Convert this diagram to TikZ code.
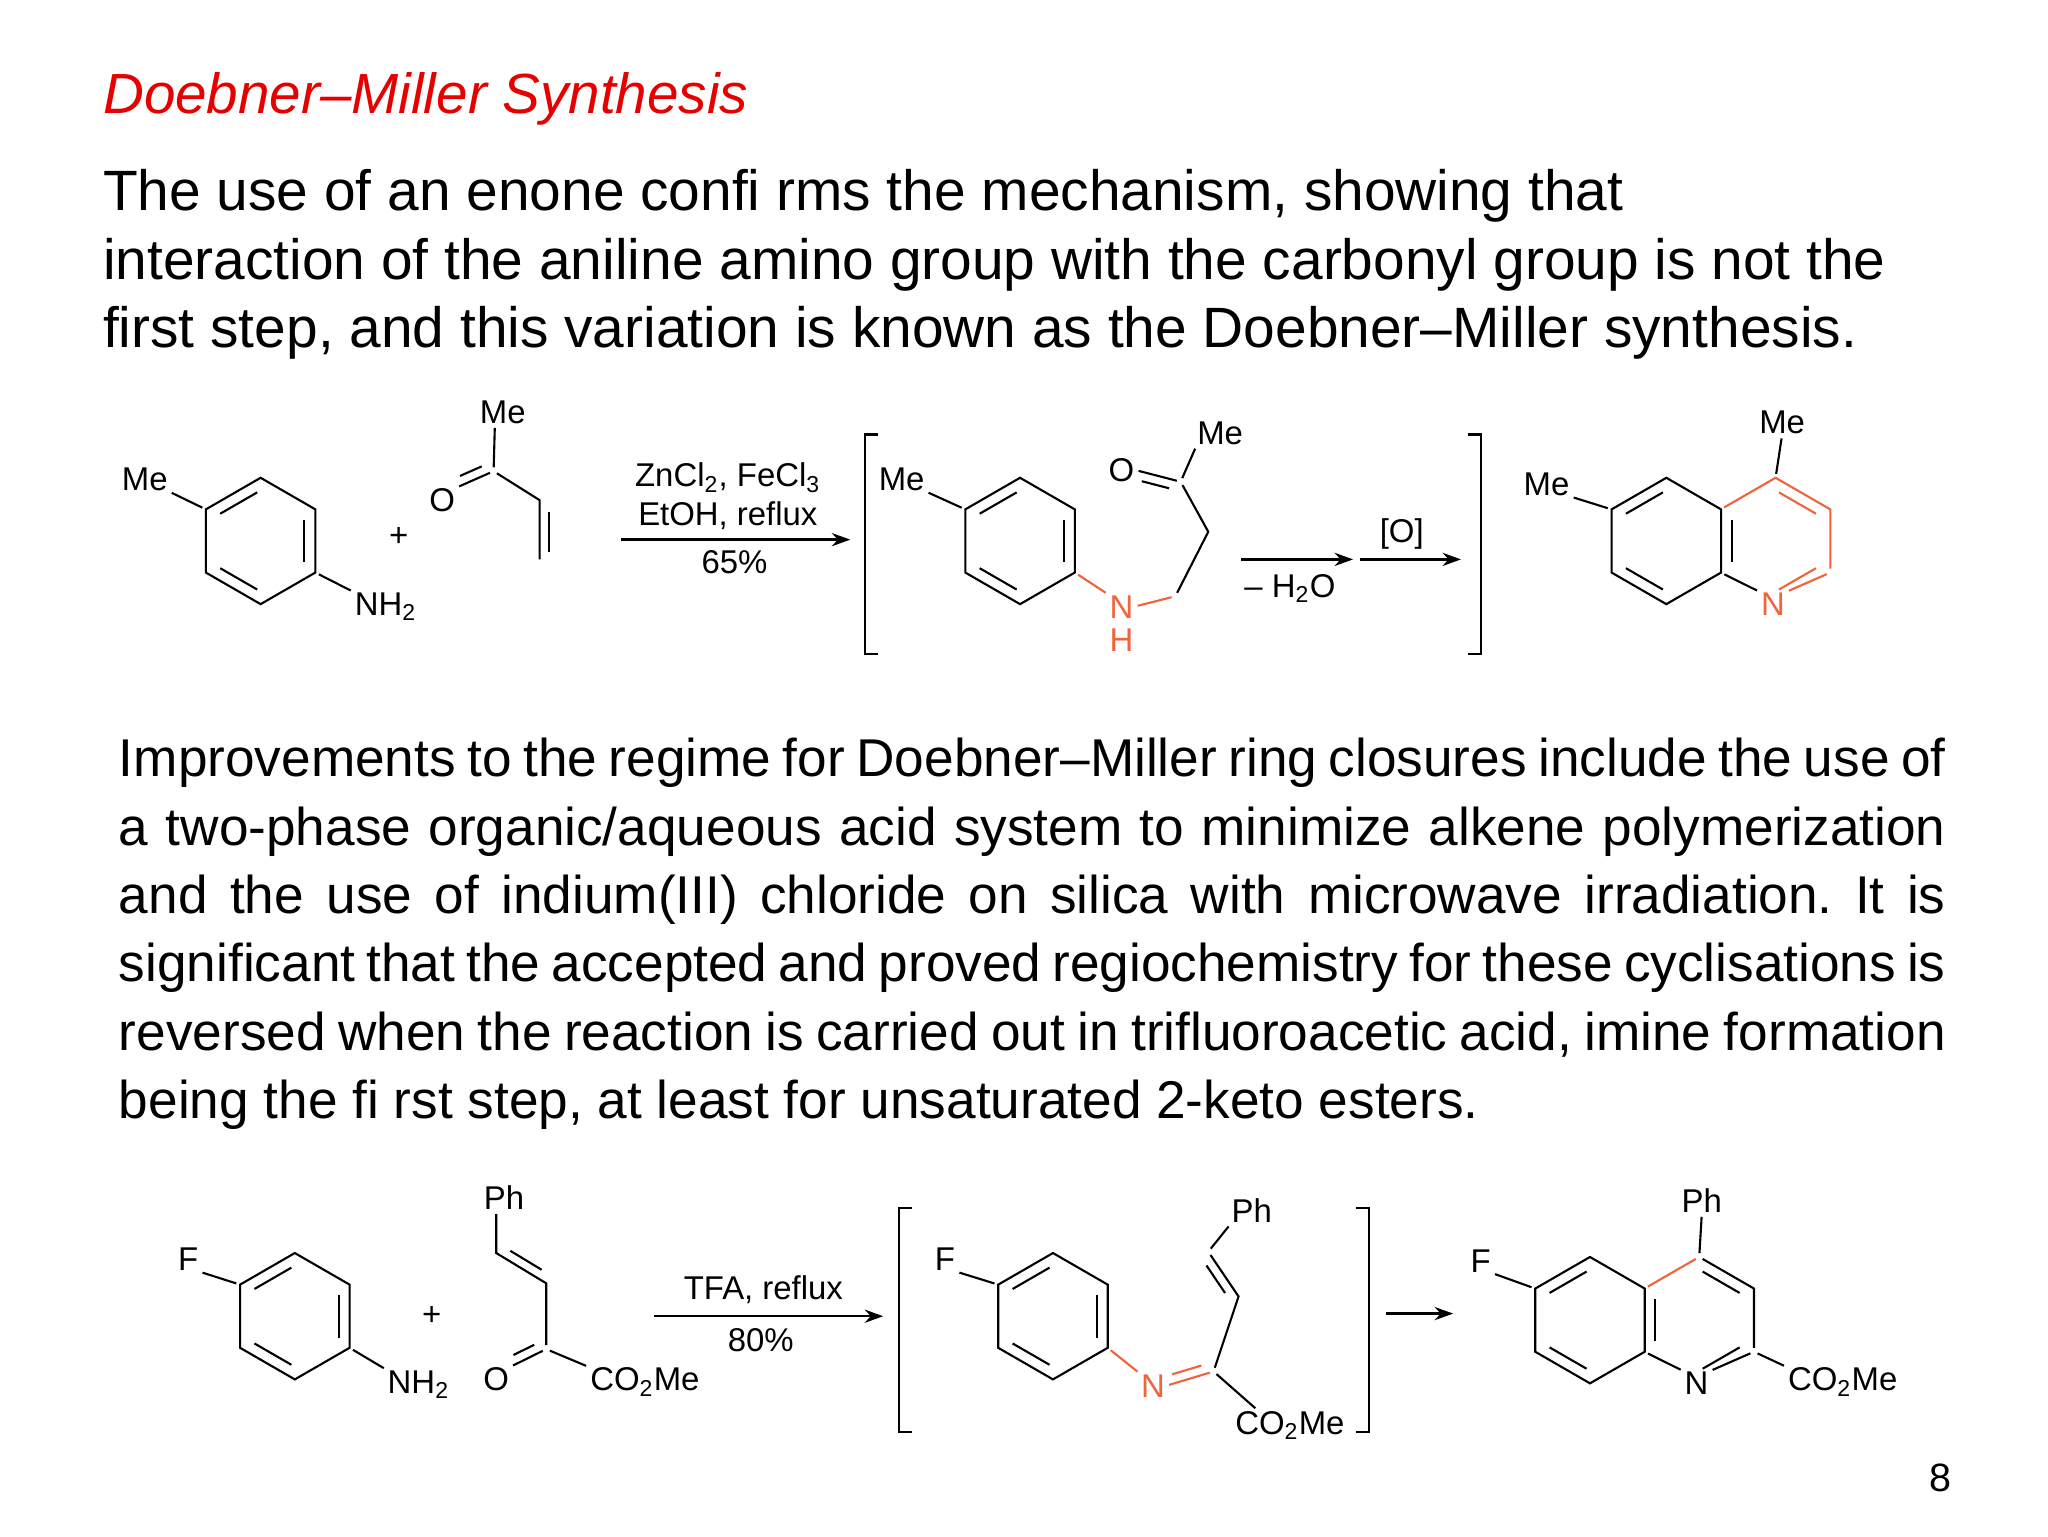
\documentclass[tikz,border=0pt]{standalone}
\usepackage{fontspec}
\setmainfont{Liberation Sans}
\usetikzlibrary{calc,arrows.meta}
\frenchspacing
\definecolor{titlered}{RGB}{230,0,0}
\definecolor{chemor}{RGB}{240,100,60}
\newcommand\hexat[3]{%
 \coordinate (#1-c) at (#2,#3);
 \coordinate (#1-1) at (#2,#3-48);
 \coordinate (#1-2) at (#2+41.6,#3-24);
 \coordinate (#1-3) at (#2+41.6,#3+24);
 \coordinate (#1-4) at (#2,#3+48);
 \coordinate (#1-5) at (#2-41.6,#3+24);
 \coordinate (#1-6) at (#2-41.6,#3-24);}
\newcommand\inb[4][]{\draw[bond,#1] ($(#2)!0.2!(#4)$) -- ($(#3)!0.2!(#4)$);}
\newcommand\dbl[4][]{\draw[bond,#1] ($(#2)!0.12!(#3)!3.5pt!#4:(#3)$) -- ($(#3)!0.12!(#2)!3.5pt!-#4:(#2)$);}
\newcommand\jline[1]{\makebox[694pt][s]{#1}}
\begin{document}
\begin{tikzpicture}[x=0.5pt,y=-0.5pt,
  bond/.style={line width=0.8pt,shorten <=1.5pt,shorten >=1.5pt},
  obond/.style={bond,draw=chemor},
  atom/.style={inner sep=0pt,font=\fontsize{12.5}{14}\selectfont},
  oatom/.style={atom,text=chemor},
  rxn/.style={-{Stealth[length=7pt,width=5pt]},line width=0.9pt},
  cond/.style={inner sep=0pt,font=\fontsize{12.5}{14}\selectfont,align=center},
  body/.style={inner sep=0pt,anchor=base west,font=\fontsize{21.6}{26}\selectfont},
  bodyb/.style={inner sep=0pt,anchor=base west,font=\fontsize{20.2}{26}\selectfont}]
\useasboundingbox[fill=white] (0,0) rectangle (1556,1167);
\node[inner sep=0pt,anchor=base west,text=titlered,font=\fontsize{21.5}{24}\selectfont\itshape] (title) at (78,86) {Doebner–Miller Synthesis};
\node[body] (p1) at (78,160) {The use of an enone confi rms the mechanism, showing that};
\node[body] (p2) at (78,212) {interaction of the aniline amino group with the carbonyl group is not the};
\node[body] (p3) at (78,264) {first step, and this variation is known as the Doebner–Miller synthesis.};
\node[bodyb] (q1) at (90,590) {\jline{Improvements to the regime for Doebner–Miller ring closures include the use of}};
\node[bodyb] (q2) at (90,642) {\jline{a two-phase organic/aqueous acid system to minimize alkene polymerization}};
\node[bodyb] (q3) at (90,694) {\jline{and the use of indium(III) chloride on silica with microwave irradiation. It is}};
\node[bodyb] (q4) at (90,746) {\jline{significant that the accepted and proved regiochemistry for these cyclisations is}};
\node[bodyb] (q5) at (90,798) {\jline{reversed when the reaction is carried out in trifluoroacetic acid, imine formation}};
\node[bodyb] (q6) at (90,850) {being the fi rst step, at least for unsaturated 2-keto esters.};
\node[inner sep=0pt,font=\fontsize{15}{18}\selectfont] (pg) at (1474,1123) {8};
%%% scheme 1
\hexat{a}{198}{411}
\draw[bond] (a-1)--(a-2)--(a-3)--(a-4)--(a-5)--(a-6)--cycle;
\inb{a-6}{a-1}{a-c}\inb{a-2}{a-3}{a-c}\inb{a-4}{a-5}{a-c}
\node[atom] (me1) at (110,364) {Me};
\draw[bond] (a-6) -- (me1.south east);
\node[atom] (nh1) at (293,461) {NH\textsubscript{2}};
\draw[bond] (a-3) -- (nh1.north west);
\node[atom] (plus1) at (303,408) {+};
\node[atom] (me2) at (382,313) {Me};
\coordinate (e1) at (375,358);
\coordinate (e2) at (410,380);
\coordinate (e3) at (410,428);
\node[atom] (o1) at (336,380) {O};
\draw[bond] (me2.south) ++(-6,0) coordinate (me2b);
\draw[bond] (me2b) -- (e1);
\draw[bond] (e1) -- (o1.north east);
\dbl{e1}{o1.north east}{-90}
\draw[bond] (e1) -- (e2) -- (e3);
\dbl{e2}{e3}{90}
\node[cond] (c1a) at (553,363) {ZnCl\textsubscript{2}, FeCl\textsubscript{3}};
\node[cond] (c1b) at (553,392) {EtOH, reflux};
\node[cond] (c1c) at (558,427) {65\%};
\coordinate (ar1s) at (472,410); \coordinate (ar1e) at (646,410);
\draw[rxn] (ar1s) -- (ar1e);
\coordinate (bl1t) at (667,330); \coordinate (bl1b) at (667,497);
\draw[line width=0.9pt] (bl1t) -| (657,497) -- (bl1b);
\coordinate (br1t) at (1115,330); \coordinate (br1b) at (1115,497);
\draw[line width=0.9pt] (br1t) -| (1125,497) -- (br1b);
\hexat{b}{775}{411}
\draw[bond] (b-1)--(b-2)--(b-3)--(b-4)--(b-5)--(b-6)--cycle;
\inb{b-6}{b-1}{b-c}\inb{b-2}{b-3}{b-c}\inb{b-4}{b-5}{b-c}
\node[atom] (me3) at (685,364) {Me};
\draw[bond] (b-6) -- (me3.south east);
\node[oatom] (n1) at (852,461) {N};
\node[oatom] (h1) at (852,486) {H};
\draw[obond] (b-3) -- (n1.north west);
\coordinate (k1) at (893,453);
\coordinate (k2) at (918,404);
\coordinate (k3) at (897,366);
\draw[obond] (n1.east) -- (k1);
\draw[bond] (k1) -- (k2) -- (k3);
\node[atom] (o2) at (852,357) {O};
\draw[bond] (k3) -- (o2.east);
\dbl{k3}{o2.east}{90}
\node[atom] (me4) at (927,329) {Me};
\draw[bond] (k3) -- (me4.south west);
\coordinate (ar2s) at (943,425); \coordinate (ar2e) at (1028,425);
\draw[rxn] (ar2s) -- (ar2e);
\node[cond] (c2) at (980,447) {– H\textsubscript{2}O};
\coordinate (ar3s) at (1033,425); \coordinate (ar3e) at (1110,425);
\draw[rxn] (ar3s) -- (ar3e);
\node[cond] (c3) at (1065,406) {[O]};
\hexat{q}{1266}{411}
\hexat{r}{1349}{411}
\draw[bond] (q-1)--(q-2)--(q-3)--(q-4)--(q-5)--(q-6)--cycle;
\inb{q-6}{q-1}{q-c}\inb{q-4}{q-5}{q-c}\inb{r-5}{r-6}{r-c}
\draw[obond] (r-6)--(r-1)--(r-2)--(r-3);
\node[oatom] (n2) at (1347,459) {N};
\draw[obond] (r-3) -- (n2.north east);
\draw[bond] (n2.north west) -- (r-5);
\inb[draw=chemor]{r-1}{r-2}{r-c}\inb[draw=chemor]{r-3}{r-4}{r-c}
\node[atom] (me5) at (1354,321) {Me};
\draw[bond] (r-1) -- (me5.south);
\node[atom] (me6) at (1175,368) {Me};
\draw[bond] (q-6) -- (me6.south east);
%%% scheme 2
\hexat{d}{224}{1000}
\draw[bond] (d-1)--(d-2)--(d-3)--(d-4)--(d-5)--(d-6)--cycle;
\inb{d-6}{d-1}{d-c}\inb{d-2}{d-3}{d-c}\inb{d-4}{d-5}{d-c}
\node[atom] (f1) at (143,957) {F};
\draw[bond] (d-6) -- (f1.south east);
\node[atom] (nh2) at (318,1052) {NH\textsubscript{2}};
\draw[bond] (d-3) -- (nh2.north west);
\node[atom] (plus2) at (328,1000) {+};
\node[atom] (ph1) at (383,910) {Ph};
\coordinate (s1) at (377,952);
\coordinate (s2) at (415,975);
\coordinate (s3) at (415,1025);
\draw[bond] (ph1.south) ++(-6,0) coordinate (ph1b);
\draw[bond] (ph1b) -- (s1) -- (s2) -- (s3);
\dbl{s1}{s2}{90}
\node[atom] (o3) at (377,1048) {O};
\draw[bond] (s3) -- (o3.north east);
\dbl{s3}{o3.north east}{-90}
\node[atom] (es1) at (490,1050) {CO\textsubscript{2}Me};
\draw[bond] (s3) -- (es1.north west);
\coordinate (ar4s) at (497,1000); \coordinate (ar4e) at (671,1000);
\draw[rxn] (ar4s) -- (ar4e);
\node[cond] (c4a) at (580,980) {TFA, reflux};
\node[cond] (c4b) at (578,1018) {80\%};
\coordinate (bl2t) at (693,918); \coordinate (bl2b) at (693,1088);
\draw[line width=0.9pt] (bl2t) -| (683,1088) -- (bl2b);
\coordinate (br2t) at (1030,918); \coordinate (br2b) at (1030,1088);
\draw[line width=0.9pt] (br2t) -| (1040,1088) -- (br2b);
\hexat{g}{800}{1000}
\draw[bond] (g-1)--(g-2)--(g-3)--(g-4)--(g-5)--(g-6)--cycle;
\inb{g-6}{g-1}{g-c}\inb{g-2}{g-3}{g-c}\inb{g-4}{g-5}{g-c}
\node[atom] (f2) at (718,957) {F};
\draw[bond] (g-6) -- (f2.south east);
\node[oatom] (n3) at (876,1053) {N};
\draw[obond] (g-3) -- (n3.north west);
\coordinate (t1) at (922,1042);
\coordinate (t2) at (941,985);
\coordinate (t3) at (918,951);
\draw[obond] (n3.east) -- (t1);
\dbl[draw=chemor]{n3.east}{t1}{90}
\draw[bond] (t1) -- (t2) -- (t3);
\dbl{t2}{t3}{90}
\node[atom] (ph2) at (951,920) {Ph};
\draw[bond] (t3) -- (ph2.south west);
\node[atom] (es2) at (980,1083) {CO\textsubscript{2}Me};
\draw[bond] (t1) -- ([xshift=-12pt]es2.north);
\coordinate (ar5s) at (1053,998); \coordinate (ar5e) at (1104,998);
\draw[rxn] (ar5s) -- (ar5e);
\hexat{u}{1208}{1003}
\hexat{v}{1291}{1003}
\draw[bond] (u-1)--(u-2)--(u-3)--(u-4)--(u-5)--(u-6)--cycle;
\inb{u-6}{u-1}{u-c}\inb{u-4}{u-5}{u-c}\inb{v-5}{v-6}{v-c}
\draw[obond] (v-6)--(v-1);
\draw[bond] (v-1)--(v-2)--(v-3);
\inb{v-1}{v-2}{v-c}\inb{v-3}{v-4}{v-c}
\node[atom] (n4) at (1289,1051) {N};
\draw[bond] (v-3) -- (n4.north east);
\draw[bond] (n4.north west) -- (v-5);
\node[atom] (ph3) at (1293,912) {Ph};
\draw[bond] (v-1) -- (ph3.south);
\node[atom] (es3) at (1400,1050) {CO\textsubscript{2}Me};
\draw[bond] (v-3) -- (es3.north west);
\node[atom] (f3) at (1125,958) {F};
\draw[bond] (u-6) -- (f3.south east);
\end{tikzpicture}
\end{document}
